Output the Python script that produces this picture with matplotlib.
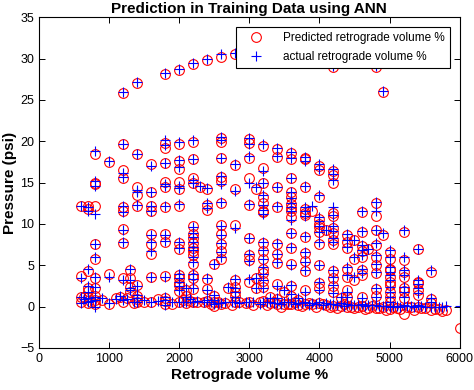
import matplotlib
matplotlib.use("Agg")
import matplotlib.pyplot as plt

plt.rcParams['font.family'] = ['Liberation Sans', 'DejaVu Sans']

# Retrograde volume % (x), actual pressure and predicted pressure (psi)
ret_volume = (
    [594]*4 + [702]*7 + [798]*11 + [1002]*3 + [1100] + [1150] + [1201]*10 +
    [1296]*4 + [1400]*9 + [1600]*9 + [1800]*13 + [2000]*15 + [2094]*3 +
    [2198]*17 + [2303] + [2397]*7 + [2497]*4 + [2597]*13 + [2697] + [2797]*9 +
    [2996]*10 + [3101]*3 + [3195]*15 + [3300]*2 + [3395]*10 + [3500]*2 +
    [3599]*15 + [3700]*2 + [3799]*12 + [3898]*2 + [3998]*12 + [4098]*2 +
    [4198]*15 + [4300]*2 + [4398]*8 + [4497]*4 + [4601]*9 + [4697]*2 +
    [4801]*11 + [4905]*3 + [5000]*11 + [5100] + [5205]*8 + [5300] + [5403]*6 +
    [5500] + [5594]*4 + [5700] + [5808] + [6000] +
    # dense low-pressure band
    [650, 750, 900, 1250, 1350, 1500, 1700, 1900, 2050, 2150, 2250, 2350,
     2450, 2550, 2650, 2750, 2850, 2950, 3050, 3150, 3250, 3350, 3450, 3550,
     3650, 3750, 3850, 3950, 4050, 4150, 4250, 4350, 4450, 4550, 4650, 4750,
     4850, 4950, 5050, 5150, 5250, 5350, 5450, 5650, 5750]
)

pressure_actual = [
    12.2, 3.5, 1.2, 0.4,
    12.0, 11.5, 4.5, 2.5, 1.8, 1.0, 0.5,
    18.8, 15.2, 14.6, 11.2, 7.6, 6.0, 3.6, 2.4, 1.2, 0.8, 0.0,
    17.6, 3.6, 0.4,
    0.9,
    1.3,
    25.9, 19.7, 16.2, 15.7, 12.2, 11.4, 9.3, 7.8, 3.2, 0.8,
    4.6, 3.2, 2.3, 2.0,
    27.1, 18.5, 14.1, 13.8, 12.3, 2.5, 1.4, 1.0, 0.5,
    17.0, 13.9, 12.2, 11.6, 8.7, 7.8, 6.7, 3.6, 0.6,
    28.2, 20.1, 19.5, 17.4, 14.8, 14.6, 12.2, 8.7, 7.9, 3.6, 1.2, 0.8, 0.2,
    28.7, 19.9, 17.7, 16.9, 14.6, 14.3, 12.4, 7.8, 7.1, 3.9, 3.4, 3.0, 2.5, 2.0, 0.6,
    2.2, 1.2, 0.6,
    29.4, 20.2, 17.9, 15.3, 14.9, 9.6, 8.9, 8.4, 7.8, 7.2, 6.8, 6.0, 5.4, 3.9, 3.3, 2.3, 0.6,
    14.6,
    29.9, 14.3, 12.5, 11.9, 3.4, 2.0, 0.8,
    5.2, 1.4, 0.8, 0.3,
    30.5, 20.5, 20.1, 18.0, 15.8, 14.8, 12.6, 9.8, 8.7, 7.7, 6.6, 6.0, 0.4,
    2.4,
    30.7, 17.2, 14.0, 9.5, 3.3, 2.3, 1.8, 1.2, 0.6,
    20.4, 19.7, 18.2, 14.9, 12.4, 8.3, 6.3, 5.5, 3.3, 0.6,
    14.4, 3.4, 2.3,
    19.6, 16.4, 15.0, 13.5, 12.3, 11.7, 11.2, 7.8, 6.8, 5.7, 4.8, 3.9, 3.2, 2.3, 0.6,
    0.5, 1.0,
    19.2, 18.2, 14.5, 12.1, 7.7, 6.4, 5.4, 2.5, 1.0, 0.4,
    0.5, 2.0,
    18.7, 18.0, 15.5, 13.9, 13.1, 12.5, 12.0, 11.5, 10.5, 8.9, 7.2, 5.0, 2.6, 1.5, 0.5,
    0.4, 1.0,
    18.1, 17.6, 14.6, 12.0, 11.5, 11.0, 8.5, 6.6, 5.4, 4.4, 1.8, 0.5,
    12.2, 0.4,
    17.2, 16.6, 13.5, 10.8, 10.3, 9.7, 9.0, 7.8, 5.0, 3.0, 2.0, 0.5,
    9.3, 0.4,
    29.1, 16.6, 16.0, 15.3, 12.0, 11.1, 9.7, 9.1, 8.3, 7.8, 4.4, 3.6, 2.6, 1.6, 0.3,
    0.4, 1.2,
    8.8, 8.1, 7.2, 4.8, 3.8, 1.8, 1.2, 0.3,
    8.1, 6.0, 3.6, 0.2,
    11.5, 9.1, 7.4, 6.8, 6.2, 4.6, 4.0, 1.0, 0.3,
    7.0, 0.2,
    29.1, 12.7, 11.5, 9.3, 7.7, 6.2, 5.2, 4.2, 2.2, 1.2, 0.2,
    26.1, 8.9, 0.1,
    6.8, 6.0, 4.8, 4.2, 3.8, 3.2, 2.4, 1.8, 1.2, 0.6, 0.0,
    0.1,
    9.2, 6.0, 4.4, 3.8, 2.4, 1.8, 1.2, 0.2,
    0.1,
    7.0, 3.2, 2.7, 2.2, 1.6, 0.2,
    0.0,
    4.4, 1.0, 0.5, 0.0,
    0.0,
    0.1,
    0.07,
    0.9, 0.7, 1.0, 0.9, 0.6, 0.8, 0.7, 0.5, 0.6, 0.9, 0.7, 0.5,
    0.6, 0.4, 0.6, 0.5, 0.4, 0.6, 0.5, 0.3, 0.5, 0.4, 0.3, 0.5,
    0.3, 0.4, 0.2, 0.3, 0.2, 0.3, 0.2, 0.1, 0.2, 0.2, 0.1, 0.2,
    0.1, 0.1, 0.1, 0.0, 0.1, 0.0, 0.1, 0.0, 0.0,
]

pressure_pred = [
    12.1, 3.7, 1.1, 0.5,
    12.1, 11.8, 4.3, 2.3, 1.9, 1.2, 0.4,
    18.5, 15.0, 14.8, 12.1, 7.6, 5.8, 3.5, 2.3, 1.3, 0.8, 0.3,
    17.5, 3.9, 0.3,
    1.0,
    1.2,
    25.8, 19.6, 16.5, 15.5, 12.0, 11.6, 9.4, 7.7, 3.4, 0.6,
    4.4, 3.5, 2.4, 1.8,
    27.0, 18.4, 14.4, 13.5, 12.1, 2.6, 1.3, 0.9, 0.6,
    17.2, 13.9, 12.1, 11.5, 8.8, 7.6, 6.3, 3.6, 0.5,
    28.1, 19.8, 19.2, 17.4, 15.1, 14.5, 12.0, 8.8, 7.8, 3.7, 1.0, 0.7, 0.3,
    28.6, 19.7, 17.6, 16.6, 15.1, 14.2, 12.1, 7.7, 6.9, 3.8, 3.5, 2.9, 2.6, 1.9, 0.5,
    2.0, 1.3, 0.4,
    29.3, 19.9, 17.8, 15.6, 14.9, 9.8, 8.8, 8.3, 7.7, 7.1, 6.7, 6.2, 5.2, 3.8, 3.4, 2.1, 0.5,
    14.5,
    29.8, 14.2, 12.3, 11.7, 3.3, 2.1, 0.7,
    5.2, 1.3, 0.6, 0.1,
    30.2, 20.4, 19.9, 18.0, 15.7, 15.2, 12.5, 9.9, 8.8, 7.6, 6.7, 5.8, 0.3,
    2.2,
    30.6, 17.1, 14.2, 9.9, 3.2, 2.4, 1.7, 1.3, 0.5,
    20.3, 19.8, 18.0, 15.5, 12.3, 8.3, 6.2, 5.6, 3.0, 0.5,
    14.2, 3.5, 2.2,
    19.4, 16.8, 14.9, 13.3, 12.5, 11.6, 11.4, 7.7, 6.7, 5.8, 4.6, 4.0, 3.1, 2.4, 0.7,
    0.4, 1.2,
    19.1, 18.1, 14.4, 12.0, 7.6, 6.3, 5.3, 2.7, 0.9, 0.3,
    0.3, 1.8,
    18.6, 17.9, 15.6, 13.8, 13.2, 12.4, 11.9, 11.5, 10.8, 8.9, 7.1, 5.1, 2.5, 1.3, 0.3,
    0.2, 0.8,
    18.0, 17.8, 14.5, 11.8, 11.3, 11.1, 8.4, 6.5, 5.5, 4.3, 2.0, 0.3,
    11.5, 0.3,
    17.0, 16.5, 13.2, 10.6, 10.0, 9.6, 9.0, 7.6, 5.0, 2.8, 2.2, 0.4,
    9.2, 0.2,
    29.0, 16.4, 15.9, 15.0, 11.3, 11.0, 9.5, 8.9, 8.1, 7.6, 4.3, 3.5, 2.5, 1.8, 0.1,
    0.1, 1.0,
    8.6, 7.8, 7.1, 4.6, 3.6, 2.0, 1.1, 0.0,
    8.0, 5.8, 3.2, -0.2,
    11.4, 9.0, 7.3, 6.7, 6.0, 4.4, 3.8, 1.2, 0.1,
    6.9, -0.2,
    29.0, 12.5, 11.0, 9.2, 7.5, 6.0, 5.0, 4.1, 2.1, 1.3, -0.2,
    26.0, 8.7, 0.0,
    6.6, 5.8, 4.6, 4.4, 3.6, 3.0, 2.6, 1.7, 1.1, 0.5, -0.3,
    -0.2,
    9.0, 5.6, 4.2, 3.6, 2.2, 1.9, 1.0, -0.9,
    -0.1,
    6.9, 3.0, 2.8, 2.0, 1.4, -0.1,
    -0.2,
    4.2, 0.9, 0.4, -0.4,
    -0.3,
    -0.4,
    -2.6,
    1.1, 0.5, 0.8, 1.0, 0.4, 0.6, 0.9, 0.3, 0.8, 0.7, 0.5, 0.6,
    0.3, 0.6, 0.4, 0.2, 0.6, 0.4, 0.2, 0.5, 0.2, 0.6, 0.0, 0.3,
    0.5, 0.1, 0.4, -0.1, 0.3, 0.0, -0.2, 0.3, -0.1, 0.0, -0.3, 0.1,
    -0.2, -0.4, 0.0, -0.3, -0.1, -0.4, -0.2, -0.3, -0.5,
]

fig = plt.figure(figsize=(4.74, 3.90), dpi=100)
ax = fig.add_axes([0.082, 0.108, 0.888, 0.848])

ax.plot(ret_volume, pressure_pred, linestyle='none', marker='o', markersize=7,
        markerfacecolor='none', markeredgecolor='red', markeredgewidth=0.8,
        label='Predicted retrograde volume %')
ax.plot(ret_volume, pressure_actual, linestyle='none', marker='+', markersize=7,
        color='blue', markeredgewidth=0.8, label='actual retrograde volume %')

ax.set_xlim(0, 6000)
ax.set_ylim(-5, 35)
ax.set_xticks(range(0, 6001, 1000))
ax.set_yticks(range(-5, 36, 5))
ax.tick_params(direction='in', top=True, right=True, labelsize=9, length=4, width=0.7)
for s in ax.spines.values():
    s.set_linewidth(0.8)

ax.set_title('Prediction in Training Data using ANN', fontsize=11, fontweight='bold', pad=3)
ax.set_xlabel('Retrograde volume %', fontsize=11, fontweight='bold', labelpad=2)
ax.set_ylabel('Pressure (psi)', fontsize=11, fontweight='bold', labelpad=2)

leg = ax.legend(loc='upper right', fontsize=8.5, frameon=True, fancybox=False,
                edgecolor='black', framealpha=1, borderaxespad=0.85,
                handlelength=2.6, handletextpad=1.0, labelspacing=0.6)
leg.get_frame().set_linewidth(0.8)

fig.savefig('out.png', dpi=100)
